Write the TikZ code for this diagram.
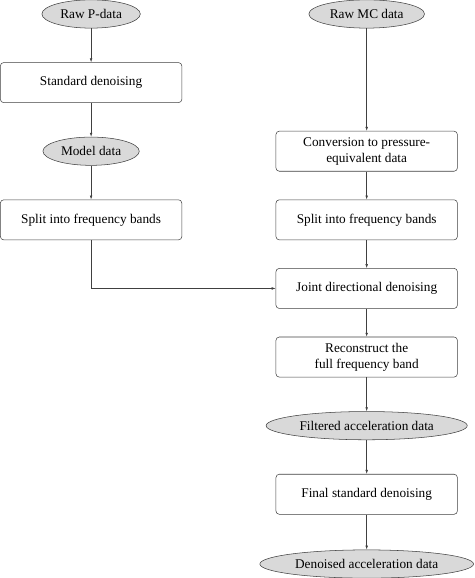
\documentclass[tikz,border=0pt]{standalone}
\usepackage{fontspec}
\setmainfont{Liberation Serif}
\usepackage{tikz}
\usetikzlibrary{shapes, arrows.meta, positioning}

\tikzset{
    databubble/.style={ellipse, draw=black!75, fill=gray!30, inner xsep=3pt, inner ysep=4pt, line width=0.4pt},
    procbox/.style={rectangle, rounded corners=2.5pt, draw=black!75, line width=0.4pt,
        minimum width=4.8cm, minimum height=1.06cm, align=center},
    flow/.style={draw=black!75, line width=0.4pt, -{Latex[length=3pt,width=2pt]}}
}

\begin{document}
\begin{tikzpicture}
        \useasboundingbox (0,0) rectangle (12.54,-15.29);
        % Linke Spalte
        \node[databubble] (rawP) at (2.41,-0.37) {Raw P-data};
        \node[procbox] (stdDen) at (2.41,-2.185) {Standard denoising};
        \node[databubble] (modelData) at (2.41,-4.0) {Model data};
        \node[procbox] (splitL) at (2.41,-5.815) {Split into frequency bands};
        % Rechte Spalte
        \node[databubble] (rawMC) at (9.70,-0.37) {Raw MC data};
        \node[procbox] (convert) at (9.70,-4.0) {Conversion to pressure-\\equivalent data};
        \node[procbox] (splitR) at (9.70,-5.815) {Split into frequency bands};
        \node[procbox] (joint) at (9.70,-7.63) {Joint directional denoising};
        \node[procbox] (reconstruct) at (9.70,-9.445) {Reconstruct the\\full frequency band};
        \node[databubble] (filtered) at (9.70,-11.26) {Filtered acceleration data};
        \node[procbox] (finalDen) at (9.70,-13.075) {Final standard denoising};
        \node[databubble] (denoised) at (9.70,-14.92) {Denoised acceleration data};
        % Verbindungen
        \draw[flow] (rawP) -- (stdDen);
        \draw[flow] (stdDen) -- (modelData);
        \draw[flow] (modelData) -- (splitL);
        \draw[flow] (splitL) |- (joint);
        \draw[flow] (rawMC) -- (convert);
        \draw[flow] (convert) -- (splitR);
        \draw[flow] (splitR) -- (joint);
        \draw[flow] (joint) -- (reconstruct);
        \draw[flow] (reconstruct) -- (filtered);
        \draw[flow] (filtered) -- (finalDen);
        \draw[flow] (finalDen) -- (denoised);
    \end{tikzpicture}
\end{document}
